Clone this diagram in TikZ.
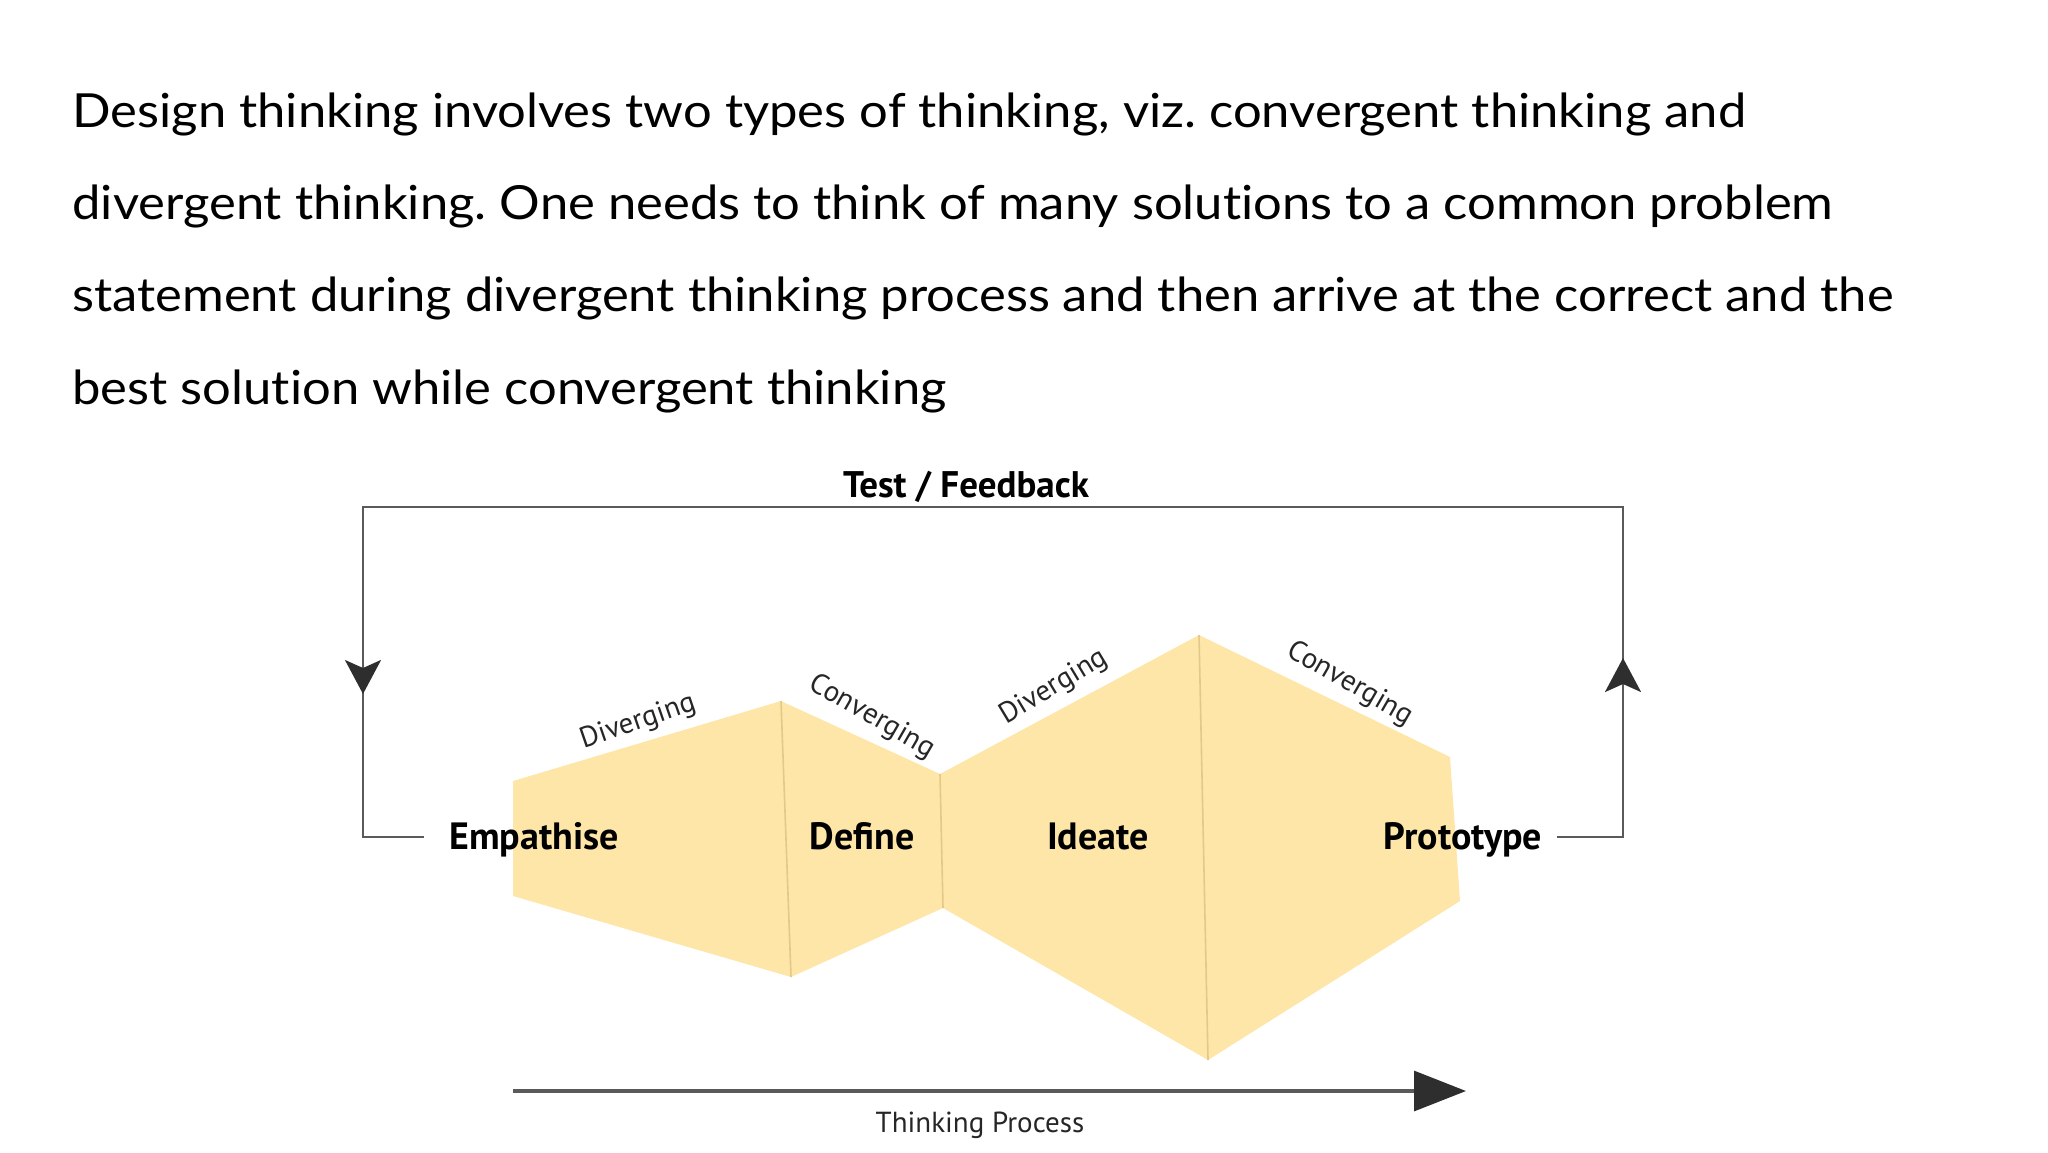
\documentclass[tikz,border=0pt]{standalone}
\usepackage{fontspec}
\setmainfont{Lato}[FakeStretch=1.08,Ligatures=NoCommon]
\newfontfamily\figfont{PT Sans}
\usetikzlibrary{arrows.meta,positioning}
\frenchspacing

\definecolor{hexfill}{HTML}{FDE6A8}
\definecolor{hexedge}{HTML}{E2C98A}
\definecolor{loopgray}{HTML}{5A5A5A}
\definecolor{tipgray}{HTML}{2E2E2E}

\begin{document}
\begin{tikzpicture}[x=0.5pt,y=-0.5pt,
	para/.style={anchor=base west,inner sep=0,font=\fontsize{23.5}{28}\selectfont},
	stage/.style={anchor=base,inner sep=0,font=\figfont\bfseries\fontsize{19}{22}\selectfont},
	slope/.style={inner sep=0,font=\figfont\fontsize{14.5}{17}\selectfont,text=black!85},
	loopline/.style={loopgray,line width=1.3pt},
	]
	\useasboundingbox (0,0) rectangle (2048,1152);
	
	% paragraph
	\node[para] (l1) at (72,127) {Design thinking involves two types of thinking, viz. convergent thinking and};
	\node[para] (l2) at (72,219) {divergent thinking. One needs to think of many solutions to a common problem};
	\node[para] (l3) at (72,311) {statement during divergent thinking process and then arrive at the correct and the};
	\node[para] (l4) at (72,404) {best solution while convergent thinking};
	
	% the double diamond
	\coordinate (a1) at (513,781);
	\coordinate (a2) at (781,701);
	\coordinate (a3) at (940,774);
	\coordinate (a4) at (1199,635);
	\coordinate (a5) at (1450,757);
	\coordinate (b5) at (1460,901);
	\coordinate (b4) at (1208,1060);
	\coordinate (b3) at (943,908);
	\coordinate (b2) at (791,977);
	\coordinate (b1) at (513,896);
	\fill[hexfill] (a1) -- (a2) -- (a3) -- (a4) -- (a5) -- (b5) -- (b4) -- (b3) -- (b2) -- (b1) -- cycle;
	\foreach \i in {2,3,4}
	{
		\draw[hexedge, line width=0.8pt] (a\i) -- (b\i);
	}
	
	\node[slope, rotate=19] (dv1) at (638,722) {Diverging};
	\node[slope, rotate=-30] (cv1) at (872,717) {Converging};
	\node[slope, rotate=31] (dv2) at (1054,687) {Diverging};
	\node[slope, rotate=-30] (cv2) at (1350,684) {Converging};
	
	\node[stage] (emp) at (534,849) {Empathise};
	\node[stage] (def) at (862,849) {Define};
	\node[stage] (ide) at (1098,849) {Ideate};
	\node[stage] (pro) at (1463,849) {Prototype};
	
	% test / feedback loop
	\node[stage, font=\figfont\bfseries\fontsize{18.5}{22}\selectfont] (test) at (966,497) {Test / Feedback};
	\coordinate (fbR) at (1557,837);
	\coordinate (cR1) at (1623,837);
	\coordinate (cR2) at (1623,507);
	\coordinate (cL2) at (363,507);
	\coordinate (cL1) at (363,837);
	\coordinate (fbL) at (424,837);
	\draw[loopline] (fbR) -- (cR1) -- (cR2) -- (cL2) -- (cL1) -- (fbL);
	\draw[loopline, -{Stealth[length=17pt,width=18pt,inset=4pt,color=tipgray]}] (1623,740) -- (1623,658);
	\draw[loopline, -{Stealth[length=17pt,width=18pt,inset=4pt,color=tipgray]}] (363,600) -- (363,694);
	
	% thinking process
	\coordinate (tpA) at (513,1091);
	\coordinate (tpB) at (1466,1091);
	\draw[loopline, line width=1.6pt, -{Triangle[length=26pt,width=20pt,color=tipgray]}] (tpA) -- (tpB);
	\node[slope, font=\figfont\fontsize{14.5}{17}\selectfont] (tp) at (980,1125) {Thinking Process};
\end{tikzpicture}
\end{document}
